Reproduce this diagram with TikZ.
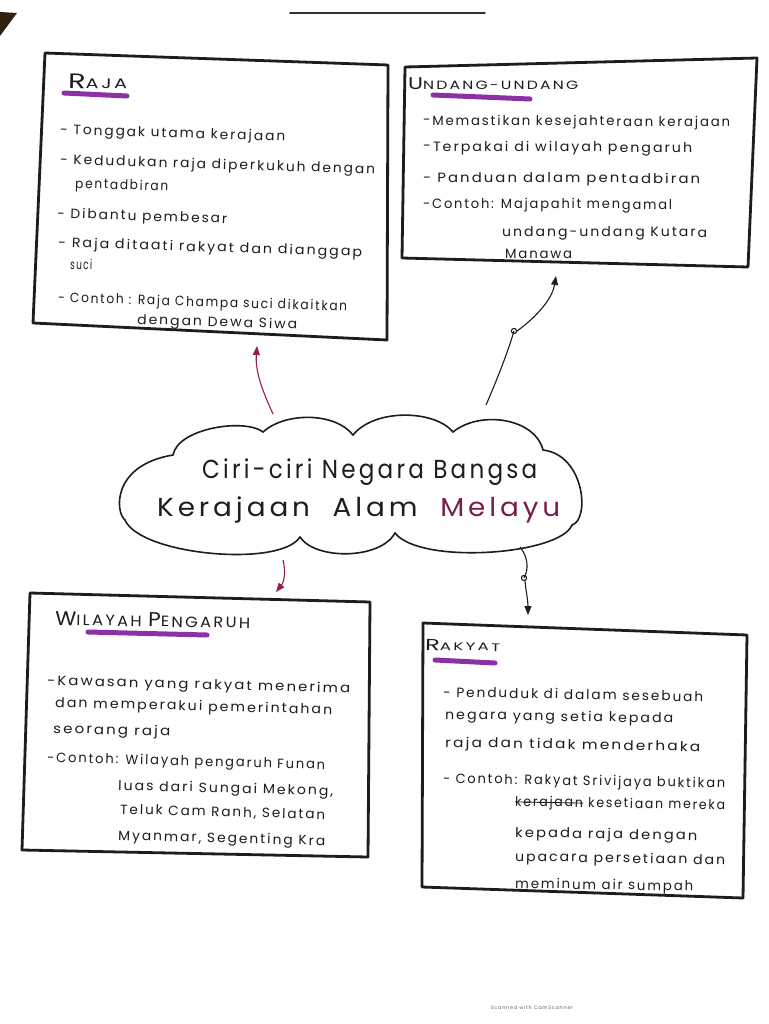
\documentclass[tikz,border=0pt]{standalone}
\usepackage{fontspec}
\setmainfont{Poppins}[LetterSpace=14]
\usepackage{graphicx}
\usetikzlibrary{arrows.meta}
\definecolor{ink}{RGB}{28,28,34}
\definecolor{crim}{RGB}{150,30,70}
\definecolor{hili}{RGB}{140,48,168}
\definecolor{maroon}{RGB}{120,30,75}
\newsavebox\hfbox
\newcommand\hfit[2]{\sbox\hfbox{#2}\edef\hfw{\the\wd\hfbox}\pgfmathsetmacro\hfr{#1/\hfw}\scalebox{\hfr}[1]{\usebox\hfbox}}
\newcommand\strike[1]{\sbox2{#1}\rlap{\rule[0.27em]{\wd2}{0.9pt}}\usebox2}
\tikzset{
  boxline/.style={draw=ink, line width=2.8pt, line join=round},
  txt/.style={anchor=base west, inner sep=0pt, text=ink, font=\fontsize{13.5}{16}\selectfont},
  ttl/.style={anchor=base west, inner sep=0pt, text=ink},
  hl/.style={draw=hili, line width=5pt, line cap=round},
  ctxt/.style={anchor=base west, inner sep=0pt, text=ink, font=\fontsize{26}{30}\selectfont},
  redarrow/.style={draw=crim, line width=1.1pt, -{Triangle[length=9pt,width=7pt]}},
  blkarrow/.style={draw=ink, line width=1.1pt, -{Triangle[length=9pt,width=7pt]}},
  cloudline/.style={draw=ink, line width=1.6pt}
}
\begin{document}
\begin{tikzpicture}[x=1pt,y=-1pt]
\useasboundingbox[fill=white] (0,0) rectangle (768,1024);
% scan artefacts
\fill[black!75!brown] (0,12) -- (17,13) -- (0,36) -- cycle;
\draw[black!80, line width=1.6pt, line cap=round] (290,13) -- (485,13);
% ---------- boxes ----------
\coordinate (r1) at (45,53); \coordinate (r2) at (388,65); \coordinate (r3) at (387,340); \coordinate (r4) at (33,323);
\draw[boxline] (r1) -- (r2) -- (r3) -- (r4) -- cycle;
\coordinate (u1) at (405,67); \coordinate (u2) at (757,58); \coordinate (u3) at (748,267); \coordinate (u4) at (402,258);
\draw[boxline] (u1) -- (u2) -- (u3) -- (u4) -- cycle;
\coordinate (w1) at (30,593); \coordinate (w2) at (370,602); \coordinate (w3) at (368,857); \coordinate (w4) at (22,850);
\draw[boxline] (w1) -- (w2) -- (w3) -- (w4) -- cycle;
\coordinate (k1) at (423,623); \coordinate (k2) at (747,635); \coordinate (k3) at (743,898); \coordinate (k4) at (422,887);
\draw[boxline] (k1) -- (k2) -- (k3) -- (k4) -- cycle;
% ---------- highlights ----------
\draw[hl] (64,93) -- (127,96);
\draw[hl] (433,95) -- (530,99);
\draw[hl] (88,632) -- (207,635);
\draw[hl] (435,660) -- (495,663);
% ---------- titles ----------
\node[ttl, rotate=-1] (tr) at (68,88) {\hfit{59}{\fontsize{21}{22}\selectfont R\fontsize{14}{14}\selectfont AJA}};
\node[ttl] (tu) at (408,90) {\hfit{170}{\fontsize{17}{18}\selectfont U\fontsize{12}{14}\selectfont NDANG-UNDANG}};
\node[ttl, rotate=-1] (tw) at (55,625) {\hfit{195}{\fontsize{20}{20}\selectfont W\fontsize{15}{15}\selectfont ILAYAH \fontsize{20}{20}\selectfont P\fontsize{15}{15}\selectfont ENGARUH}};
\node[ttl, rotate=-1] (tk) at (425,650) {\hfit{75}{\fontsize{16}{16}\selectfont R\fontsize{11}{11}\selectfont AKYAT}};
% ---------- Raja text ----------
\begin{scope}[every node/.style={txt, rotate=-1.8}]
\node (ra1) at (60,134) {\hfit{225}{- Tonggak utama kerajaan}};
\node (ra2) at (60,164) {\hfit{315}{- Kedudukan raja diperkukuh dengan}};
\node (ra3) at (75,188) {\hfit{93}{pentadbiran}};
\node (ra4) at (57,218) {\hfit{170}{- Dibantu pembesar}};
\node (ra5) at (58,247) {\hfit{304}{- Raja ditaati rakyat dan dianggap}};
\node (ra6) at (70,269) {\hfit{22}{suci}};
\node (ra7) at (58,302) {\hfit{289}{- Contoh : Raja Champa suci dikaitkan}};
\node (ra8) at (137,324) {\hfit{160}{dengan Dewa Siwa}};
\end{scope}
% ---------- Undang text ----------
\begin{scope}[every node/.style={txt, rotate=-0.3}]
\node (ud1) at (423,125) {\hfit{307}{-Memastikan kesejahteraan kerajaan}};
\node (ud2) at (423,151) {\hfit{269}{-Terpakai di wilayah pengaruh}};
\node (ud3) at (423,182) {\hfit{277}{- Panduan dalam pentadbiran}};
\node (ud4) at (423,208) {\hfit{249}{-Contoh: Majapahit mengamal}};
\node (ud5) at (502,236) {\hfit{205}{undang-undang Kutara}};
\node (ud6) at (505,258) {\hfit{67}{Manawa}};
\end{scope}
% ---------- Wilayah text ----------
\begin{scope}[every node/.style={txt, rotate=-1.5}]
\node (wl1) at (47,685) {\hfit{303}{-Kawasan yang rakyat menerima}};
\node (wl2) at (55,707) {\hfit{277}{dan memperakui pemerintahan}};
\node (wl3) at (53,733) {\hfit{117}{seorang raja}};
\node (wl4) at (47,762) {\hfit{278}{-Contoh: Wilayah pengaruh Funan}};
\node (wl5) at (118,790) {\hfit{215}{luas dari Sungai Mekong,}};
\node (wl6) at (120,814) {\hfit{205}{Teluk Cam Ranh, Selatan}};
\node (wl7) at (118,840) {\hfit{207}{Myanmar, Segenting Kra}};
\end{scope}
% ---------- Rakyat text ----------
\begin{scope}[every node/.style={txt, rotate=-1}]
\node (rk1) at (443,697) {\hfit{260}{- Penduduk di dalam sesebuah}};
\node (rk2) at (445,719) {\hfit{228}{negara yang setia kepada}};
\node (rk3) at (445,747) {\hfit{255}{raja dan tidak menderhaka}};
\node (rk4) at (443,783) {\hfit{282}{- Contoh: Rakyat Srivijaya buktikan}};
\node (rk5) at (515,806) {\hfit{210}{\strike{kerajaan} kesetiaan mereka}};
\node (rk6) at (515,837) {\hfit{182}{kepada raja dengan}};
\node (rk7) at (515,861) {\hfit{210}{upacara persetiaan dan}};
\node (rk8) at (515,888) {\hfit{178}{meminum air sumpah}};
\end{scope}
% ---------- cloud ----------
\draw[cloudline] (125,520)
  .. controls (115,512) and (112,465) .. (173,455)
  .. controls (178,428) and (245,418) .. (263,432)
  .. controls (285,412) and (335,412) .. (353,435)
  .. controls (375,408) and (435,410) .. (453,432)
  .. controls (480,410) and (535,418) .. (543,450)
  .. controls (585,455) and (590,520) .. (572,525)
  .. controls (560,555) and (420,565) .. (395,533)
  .. controls (380,560) and (315,560) .. (300,537)
  .. controls (280,568) and (140,555) .. (125,520) -- cycle;
\node[ctxt] (c1) at (202,478) {\hfit{335}{Ciri-ciri Negara Bangsa}};
\node[ctxt] (c2) at (157,516) {\hfit{403}{Kerajaan\ \ Alam\ \ \textcolor{maroon}{Melayu}}};
% ---------- connectors ----------
\coordinate (a1s) at (273,414); \coordinate (a1e) at (257,346);
\draw[redarrow] (a1s) .. controls (263,392) and (255,372) .. (a1e);
\coordinate (a2s) at (486,405); \coordinate (a2m) at (514,331); \coordinate (a2e) at (556,276);
\draw[ink, line width=1.1pt] (a2s) .. controls (496,382) and (508,352) .. (a2m);
\draw[ink, line width=1.1pt] (a2m) circle[radius=2.6];
\draw[blkarrow] (a2m) ++(3,0) .. controls (535,318) and (552,300) .. (a2e);
\coordinate (a3s) at (283,560); \coordinate (a3e) at (276,592);
\draw[redarrow] (a3s) .. controls (286,572) and (284,582) .. (a3e);
\coordinate (a4s) at (520,547); \coordinate (a4m) at (524,578); \coordinate (a4e) at (528,615);
\draw[ink, line width=1.1pt] (a4s) .. controls (528,557) and (529,569) .. (a4m);
\draw[ink, line width=1.1pt] (a4m) circle[radius=2.6];
\draw[blkarrow] (a4m) ++(1,3) .. controls (526,592) and (528,600) .. (a4e);
% ---------- footer ----------
\node[inner sep=0pt, text=black!60, font=\fontsize{5}{6}\selectfont] (scan) at (532,1008) {Scanned with CamScanner};
\end{tikzpicture}
\end{document}
